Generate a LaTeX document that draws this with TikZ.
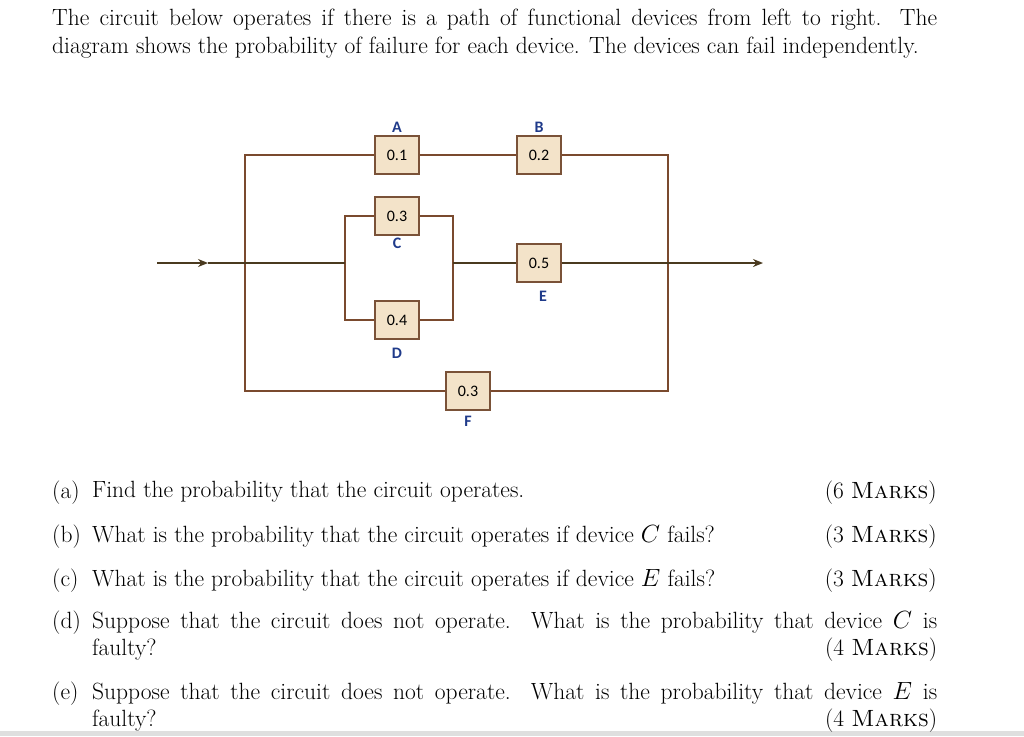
\documentclass[tikz,border=0pt]{standalone}
\usepackage{fontspec}
\newfontfamily\carlitofont{Carlito}
\usetikzlibrary{arrows.meta}
\definecolor{wire}{HTML}{7A4A2E}
\definecolor{mainw}{HTML}{4A3A1F}
\definecolor{boxf}{HTML}{F3E3C9}
\definecolor{boxd}{HTML}{7A5238}
\definecolor{lab}{HTML}{1F3A8A}
\tikzset{
 dev/.style={draw=boxd,fill=boxf,line width=1.3pt,minimum width=44pt,minimum height=38pt,inner sep=0pt,font=\carlitofont\fontsize{16}{16}\selectfont},
 lbl/.style={text=lab,font=\carlitofont\bfseries\fontsize{16}{16}\selectfont},
 w/.style={draw=wire,line width=1.5pt},
 txt/.style={anchor=north west,inner sep=0pt,font=\fontsize{23.5}{27.5}\selectfont},
}
\begin{document}
\begin{tikzpicture}[x=1pt,y=-1pt]
\useasboundingbox (0,0) rectangle (1024,736);
\fill[gray!25] (0,731) rectangle (1024,736);
\node[txt,text width=885pt,align=justify] (intro) at (52,9) {The circuit below operates if there is a path of functional devices from left to right. The\linebreak diagram shows the probability of failure for each device. The devices can fail independently.};
% circuit nodes
\coordinate (in) at (157,263);
\coordinate (out) at (763,263);
\coordinate (jl) at (245,263);
\coordinate (jr) at (668,263);
\coordinate (cl) at (345,263);
\coordinate (cr) at (453,263);
\coordinate (mid) at (208,263);
\node[dev] (A) at (397,155) {0.1};
\node[dev] (B) at (539,155) {0.2};
\node[dev] (C) at (397,216) {0.3};
\node[dev] (D) at (397,320) {0.4};
\node[dev] (E) at (539,263) {0.5};
\node[dev] (F) at (468,391) {0.3};
\node[lbl] (lA) at (397,127) {A};
\node[lbl] (lB) at (539,127) {B};
\node[lbl] (lC) at (397,243) {C};
\node[lbl] (lD) at (397,353) {D};
\node[lbl] (lE) at (543,296) {E};
\node[lbl] (lF) at (468,421) {F};
% wires
\draw[w] (jl) |- (A.west);
\draw[w] (A.east) -- (B.west);
\draw[w] (B.east) -| (jr);
\draw[w] (jl) |- (F.west);
\draw[w] (F.east) -| (jr);
\draw[w] (cl) |- (C.west);
\draw[w] (cl) |- (D.west);
\draw[w] (C.east) -| (cr);
\draw[w] (D.east) -| (cr);
\draw[draw=mainw,line width=1.8pt,-{Stealth[length=10pt,width=8pt]}] (in) -- (mid);
\draw[draw=mainw,line width=1.8pt] (mid) -- (cl);
\draw[draw=mainw,line width=1.8pt] (cr) -- (E.west);
\draw[draw=mainw,line width=1.8pt,-{Stealth[length=10pt,width=8pt]}] (E.east) -- (out);
% questions
\node[txt] (qa) at (52,481) {(a)};
\node[txt] (ta) at (92,481) {Find the probability that the circuit operates.};
\node[txt,anchor=north east] (ma) at (937,481) {(6 \textsc{Marks})};
\node[txt] (qb) at (52,525) {(b)};
\node[txt] (tb) at (92,525) {What is the probability that the circuit operates if device $C$ fails?};
\node[txt,anchor=north east] (mb) at (937,525) {(3 \textsc{Marks})};
\node[txt] (qc) at (52,569) {(c)};
\node[txt] (tc) at (92,569) {What is the probability that the circuit operates if device $E$ fails?};
\node[txt,anchor=north east] (mc) at (937,569) {(3 \textsc{Marks})};
\node[txt] (qd) at (52,611) {(d)};
\node[txt,text width=845pt,align=justify] (td) at (92,611) {Suppose that the circuit does not operate. What is the probability that device $C$ is\linebreak faulty?\hfill(4 \textsc{Marks})};
\node[txt] (qe) at (52,682) {(e)};
\node[txt,text width=845pt,align=justify] (te) at (92,682) {Suppose that the circuit does not operate. What is the probability that device $E$ is\linebreak faulty?\hfill(4 \textsc{Marks})};
\end{tikzpicture}
\end{document}
